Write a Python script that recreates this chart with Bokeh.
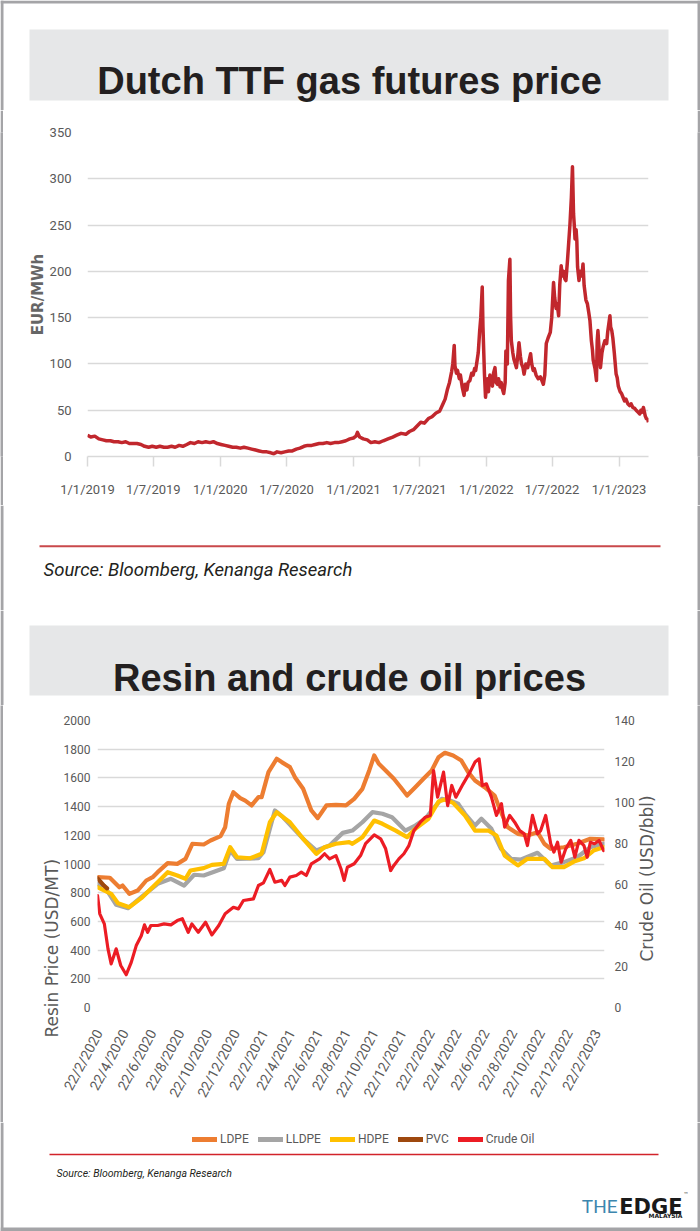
import math
import pandas as pd
from bokeh.plotting import figure
from bokeh.layouts import column, row
from bokeh.models import Range1d, LinearAxis, FixedTicker, Legend, LegendItem
from bokeh.core.properties import value
from bokeh.embed import file_html
from bokeh.resources import INLINE

# ---------------------------------------------------------------- data
# Dutch TTF gas futures price, EUR/MWh
ttf_2019 = [("2019-01-01", 23), ("2019-01-10", 21), ("2019-01-21", 22), ("2019-02-01", 19), ("2019-02-12", 18),
            ("2019-02-22", 17), ("2019-03-05", 17), ("2019-03-15", 16), ("2019-03-26", 16), ("2019-04-05", 15),
            ("2019-04-16", 16), ("2019-04-26", 14), ("2019-05-07", 14), ("2019-05-17", 14), ("2019-05-28", 13),
            ("2019-06-07", 11), ("2019-06-18", 10), ("2019-06-28", 11), ("2019-07-09", 10), ("2019-07-19", 11),
            ("2019-07-30", 10), ("2019-08-09", 10), ("2019-08-20", 11), ("2019-08-30", 10), ("2019-09-10", 12),
            ("2019-09-20", 11), ("2019-10-01", 13), ("2019-10-11", 15), ("2019-10-22", 14), ("2019-11-01", 16),
            ("2019-11-12", 15), ("2019-11-22", 16), ("2019-12-03", 15), ("2019-12-13", 16), ("2019-12-24", 14)]
ttf_2020 = [("2020-01-03", 13), ("2020-01-14", 12), ("2020-01-24", 11), ("2020-02-04", 10), ("2020-02-14", 10),
            ("2020-02-25", 9), ("2020-03-06", 10), ("2020-03-17", 9), ("2020-03-27", 8), ("2020-04-07", 7),
            ("2020-04-17", 6), ("2020-04-28", 5), ("2020-05-08", 5), ("2020-05-19", 4), ("2020-05-27", 3),
            ("2020-06-05", 5), ("2020-06-16", 4), ("2020-06-26", 5), ("2020-07-07", 6), ("2020-07-17", 6),
            ("2020-07-28", 8), ("2020-08-07", 9), ("2020-08-18", 11), ("2020-08-28", 12), ("2020-09-08", 12),
            ("2020-09-18", 13), ("2020-09-29", 14), ("2020-10-09", 14), ("2020-10-20", 15), ("2020-10-30", 14),
            ("2020-11-10", 15), ("2020-11-20", 15), ("2020-12-01", 16), ("2020-12-11", 17), ("2020-12-22", 19)]
ttf_2021 = [("2021-01-01", 20), ("2021-01-08", 22), ("2021-01-12", 26), ("2021-01-18", 21), ("2021-01-28", 19),
            ("2021-02-08", 18), ("2021-02-18", 15), ("2021-03-01", 16), ("2021-03-12", 15), ("2021-03-24", 17),
            ("2021-04-06", 19), ("2021-04-19", 21), ("2021-04-30", 23), ("2021-05-12", 25), ("2021-05-25", 24),
            ("2021-06-04", 27), ("2021-06-15", 29), ("2021-06-25", 33), ("2021-07-05", 37), ("2021-07-15", 36),
            ("2021-07-26", 41), ("2021-08-05", 43), ("2021-08-16", 47), ("2021-08-26", 49), ("2021-09-03", 56),
            ("2021-09-10", 62), ("2021-09-16", 72), ("2021-09-22", 80), ("2021-09-28", 92), ("2021-10-01", 100),
            ("2021-10-05", 120), ("2021-10-07", 98), ("2021-10-11", 90), ("2021-10-14", 93), ("2021-10-19", 84),
            ("2021-10-22", 88), ("2021-10-27", 75), ("2021-11-01", 66), ("2021-11-04", 78), ("2021-11-09", 72),
            ("2021-11-12", 80), ("2021-11-17", 82), ("2021-11-22", 90), ("2021-11-26", 88), ("2021-11-30", 95),
            ("2021-12-03", 93), ("2021-12-07", 104), ("2021-12-10", 112), ("2021-12-14", 136), ("2021-12-17", 150),
            ("2021-12-21", 183), ("2021-12-23", 140), ("2021-12-27", 90), ("2021-12-30", 64)]
ttf_2022 = [("2022-01-04", 84), ("2022-01-07", 70), ("2022-01-11", 88), ("2022-01-14", 82), ("2022-01-18", 76),
            ("2022-01-21", 90), ("2022-01-25", 96), ("2022-01-28", 80), ("2022-02-01", 78), ("2022-02-04", 84),
            ("2022-02-08", 75), ("2022-02-11", 80), ("2022-02-15", 72), ("2022-02-18", 68), ("2022-02-22", 80),
            ("2022-02-24", 114), ("2022-02-28", 100), ("2022-03-03", 190), ("2022-03-07", 213), ("2022-03-09", 150),
            ("2022-03-11", 125), ("2022-03-15", 112), ("2022-03-18", 105), ("2022-03-22", 100), ("2022-03-25", 96),
            ("2022-03-29", 110), ("2022-04-01", 123), ("2022-04-05", 108), ("2022-04-08", 100), ("2022-04-12", 96),
            ("2022-04-15", 89), ("2022-04-20", 100), ("2022-04-25", 96), ("2022-04-29", 104), ("2022-05-03", 111),
            ("2022-05-06", 100), ("2022-05-10", 93), ("2022-05-13", 95), ("2022-05-18", 88), ("2022-05-24", 84),
            ("2022-05-30", 86), ("2022-06-03", 82), ("2022-06-07", 78), ("2022-06-11", 88), ("2022-06-15", 122),
            ("2022-06-20", 128), ("2022-06-26", 134), ("2022-06-30", 150), ("2022-07-05", 188), ("2022-07-08", 172),
            ("2022-07-12", 160), ("2022-07-15", 165), ("2022-07-19", 152), ("2022-07-22", 185), ("2022-07-26", 206),
            ("2022-07-29", 195), ("2022-08-02", 200), ("2022-08-05", 192), ("2022-08-08", 190), ("2022-08-12", 210),
            ("2022-08-16", 233), ("2022-08-19", 250), ("2022-08-23", 280), ("2022-08-26", 313), ("2022-08-29", 262),
            ("2022-08-31", 250), ("2022-09-02", 235), ("2022-09-05", 245), ("2022-09-07", 233), ("2022-09-09", 205),
            ("2022-09-13", 190), ("2022-09-16", 200), ("2022-09-21", 195), ("2022-09-24", 208), ("2022-09-27", 185),
            ("2022-10-02", 169), ("2022-10-06", 165), ("2022-10-10", 155), ("2022-10-13", 147), ("2022-10-17", 125),
            ("2022-10-20", 115), ("2022-10-22", 104), ("2022-10-27", 95), ("2022-10-31", 82), ("2022-11-02", 125),
            ("2022-11-04", 136), ("2022-11-08", 110), ("2022-11-11", 96), ("2022-11-15", 112), ("2022-11-18", 118),
            ("2022-11-23", 125), ("2022-11-28", 122), ("2022-12-01", 135), ("2022-12-07", 152), ("2022-12-09", 140),
            ("2022-12-12", 136), ("2022-12-15", 128), ("2022-12-19", 112), ("2022-12-24", 89), ("2022-12-27", 85),
            ("2022-12-30", 76)]
ttf_2023 = [("2023-01-04", 70), ("2023-01-08", 68), ("2023-01-12", 64), ("2023-01-16", 60), ("2023-01-20", 62),
            ("2023-01-25", 57), ("2023-01-30", 55), ("2023-02-03", 57), ("2023-02-08", 53), ("2023-02-13", 52),
            ("2023-02-17", 50), ("2023-02-22", 48), ("2023-02-27", 46), ("2023-03-02", 50), ("2023-03-06", 48),
            ("2023-03-09", 53), ("2023-03-14", 44), ("2023-03-17", 41), ("2023-03-21", 40), ("2023-03-23", 37)]
ttf_tick_labels = ["1/1/2019", "1/7/2019", "1/1/2020", "1/7/2020", "1/1/2021",
                   "1/7/2021", "1/1/2022", "1/7/2022", "1/1/2023"]
ttf_yticks = [0, 50, 100, 150, 200, 250, 300, 350]

# Resin (USD/MT) and crude oil (USD/bbl): (days after 22/2/2020, value)
ldpe_pts = [(0, 908), (27, 904), (48, 838), (55, 850), (70, 792), (88, 815), (107, 885), (121, 908), (132, 943),
            (154, 1006), (175, 1001), (193, 1036), (208, 1141), (233, 1136), (248, 1164), (270, 1194), (280, 1256),
            (288, 1420), (298, 1500), (313, 1459), (324, 1442), (338, 1408), (353, 1466), (360, 1466), (375, 1640),
            (393, 1733), (404, 1710), (422, 1675), (433, 1605), (451, 1524), (469, 1373), (483, 1320), (502, 1408),
            (523, 1412), (545, 1408), (563, 1454), (581, 1524), (596, 1652), (607, 1756), (617, 1698), (632, 1652),
            (650, 1594), (665, 1535), (679, 1477), (697, 1535), (715, 1594), (733, 1652), (748, 1744), (762, 1775),
            (780, 1756), (798, 1721), (813, 1640), (828, 1582), (849, 1535), (871, 1477), (885, 1361), (900, 1256),
            (922, 1210), (943, 1199), (965, 1222), (980, 1141), (994, 1106), (1023, 1117), (1052, 1141), (1081, 1176),
            (1110, 1171)]
lldpe_pts = [(0, 860), (14, 850), (41, 716), (67, 692), (96, 769), (132, 862), (161, 897), (190, 850), (212, 925),
             (233, 920), (277, 971), (291, 1094), (306, 1036), (353, 1040), (364, 1082), (389, 1373), (407, 1326),
             (451, 1176), (480, 1094), (509, 1129), (538, 1217), (559, 1233), (581, 1291), (603, 1361), (625, 1350),
             (646, 1326), (675, 1233), (697, 1268), (719, 1315), (733, 1373), (755, 1454), (773, 1442), (791, 1420),
             (806, 1350), (828, 1268), (842, 1315), (864, 1245), (885, 1106), (907, 1036), (929, 1031), (965, 1078),
             (994, 990), (1023, 1013), (1052, 1047), (1081, 1117), (1110, 1141)]
hdpe_pts = [(0, 838), (30, 792), (45, 727), (70, 699), (96, 762), (132, 873), (154, 943), (175, 920), (193, 897),
            (204, 955), (233, 971), (251, 994), (277, 1001), (291, 1117), (306, 1047), (335, 1040), (360, 1071),
            (378, 1291), (393, 1361), (407, 1326), (422, 1291), (451, 1176), (480, 1071), (498, 1117), (523, 1141),
            (552, 1152), (559, 1141), (581, 1187), (607, 1303), (625, 1280), (654, 1233), (679, 1187), (697, 1245),
            (726, 1315), (748, 1436), (762, 1449), (780, 1426), (806, 1338), (828, 1233), (857, 1233), (875, 1199),
            (893, 1059), (922, 990), (943, 1036), (980, 1036), (998, 978), (1023, 978), (1045, 1017), (1067, 1040),
            (1088, 1094), (1110, 1117)]
pvc_pts = [(0, 900), (7, 875), (14, 850), (21, 830)]
crude_pts = [(0, 54.6), (5, 45.7), (15, 40.8), (23, 28.6), (30, 21.3), (41, 28.6), (51, 20.5), (63, 16.0), (74, 22.0),
             (85, 30.2), (96, 35.0), (103, 40.3), (110, 36.7), (117, 40.0), (132, 40.0), (146, 40.8), (161, 40.3),
             (175, 42.4), (186, 43.3), (199, 36.7), (207, 40.8), (221, 36.7), (237, 41.6), (251, 35.4), (266, 40.0),
             (280, 45.7), (298, 48.9), (309, 48.1), (320, 52.2), (342, 53.0), (353, 59.5), (364, 60.8), (378, 67.3),
             (389, 61.1), (404, 62.0), (411, 59.5), (422, 63.6), (436, 64.4), (447, 66.0), (458, 64.4), (469, 70.1),
             (487, 72.5), (498, 75.0), (509, 72.5), (523, 74.1), (534, 67.7), (541, 62.0), (548, 68.4), (563, 70.1),
             (577, 74.1), (588, 79.9), (607, 84.2), (621, 82.3), (632, 77.4), (643, 66.8), (650, 69.3), (661, 72.5),
             (672, 75.0), (683, 79.0), (694, 86.3), (708, 90.4), (719, 92.8), (730, 93.7), (737, 115.6), (746, 102.6),
             (759, 114.8), (768, 98.5), (777, 108.3), (786, 102.6), (802, 109.1), (817, 114.8), (828, 119.7),
             (837, 121.3), (844, 108.3), (853, 109.1), (864, 102.6), (875, 93.7), (886, 99.4), (893, 88.0),
             (904, 93.7), (915, 90.4), (926, 86.3), (936, 84.7), (943, 79.0), (954, 93.7), (965, 84.7), (972, 86.3),
             (983, 93.7), (994, 79.9), (1001, 75.8), (1009, 80.6), (1017, 70.9), (1027, 77.4), (1038, 81.5),
             (1047, 73.3), (1056, 81.5), (1067, 79.0), (1074, 73.3), (1081, 80.6), (1090, 79.9), (1100, 81.5),
             (1110, 76.6)]
resin_tick_labels = ["22/2/2020", "22/4/2020", "22/6/2020", "22/8/2020", "22/10/2020", "22/12/2020",
                     "22/2/2021", "22/4/2021", "22/6/2021", "22/8/2021", "22/10/2021", "22/12/2021",
                     "22/2/2022", "22/4/2022", "22/6/2022", "22/8/2022", "22/10/2022", "22/12/2022",
                     "22/2/2023"]
resin_yticks = [0, 200, 400, 600, 800, 1000, 1200, 1400, 1600, 1800, 2000]
crude_yticks = [0, 20, 40, 60, 80, 100, 120, 140]

# ---------------------------------------------------------------- styles
BORDER = "#a4a4a7"
GRID = "#d9d9d9"
TXT = "#595959"
SANS = "Roboto"
TITLE_BG = "#e6e7e8"


def deco(h, y0, x0=0, w=700, sides=True):
    f = figure(width=w, height=h, x_range=Range1d(x0, x0 + w), y_range=Range1d(y0 + h, y0),
               min_border=0, toolbar_location=None, output_backend="svg",
               x_axis_type=None, y_axis_type=None, outline_line_color=None)
    if sides:
        f.quad(left=[0, 697], right=[3, 700], top=[y0, y0], bottom=[y0 + h, y0 + h],
               color=BORDER, line_color=None)
    return f


def strip(h):
    return figure(width=3, height=h, min_border=0, toolbar_location=None, output_backend="svg",
                  x_axis_type=None, y_axis_type=None, outline_line_color=None,
                  background_fill_color=BORDER, border_fill_color=BORDER)


def title_box(f, y_top, y_bot, text, baseline):
    f.quad(left=[29], right=[668], top=[y_top], bottom=[y_bot], color=TITLE_BG, line_color=None)
    f.text(x=[349], y=[baseline], text=[text], text_align="center", text_baseline="alphabetic",
           text_font=value("Liberation Sans"), text_font_style="bold", text_font_size="38px",
           text_color="#231f20")


# ---------------------------------------------------------------- header 1
h1 = deco(110, 0)
h1.quad(left=[0], right=[700], top=[0], bottom=[3], color=BORDER, line_color=None)
title_box(h1, 29, 100, "Dutch TTF gas futures price", 80)

# ---------------------------------------------------------------- chart 1
t0 = pd.Timestamp("2019-01-01")
ttf_all = ttf_2019 + ttf_2020 + ttf_2021 + ttf_2022 + ttf_2023
ttf_x = [(pd.Timestamp(d) - t0).days for d, _ in ttf_all]
ttf_y = [v for _, v in ttf_all]
ttf_tick_x = [(pd.to_datetime(s, format="%d/%m/%Y") - t0).days for s in ttf_tick_labels]

p1 = figure(width=694, height=395, x_range=Range1d(0, 1542), y_range=Range1d(0, 350),
            min_border_left=84, min_border_right=49, min_border_top=22, min_border_bottom=49,
            toolbar_location=None, output_backend="svg", outline_line_color=None)
p1.line(ttf_x, ttf_y, line_color="#c1272d", line_width=3.5, line_join="round")
p1.xgrid.visible = False
p1.ygrid.grid_line_color = GRID
p1.ygrid.grid_line_width = 1.5
p1.yaxis.ticker = FixedTicker(ticks=ttf_yticks)
p1.yaxis.axis_line_color = None
p1.yaxis.major_tick_line_color = None
p1.yaxis.minor_tick_line_color = None
p1.yaxis.major_label_text_font = SANS
p1.yaxis.major_label_text_font_size = "13px"
p1.yaxis.major_label_text_color = TXT
p1.yaxis.major_label_standoff = 10
p1.yaxis.axis_label = "EUR/MWh"
p1.yaxis.axis_label_text_font = "DejaVu Sans"
p1.yaxis.axis_label_text_font_size = "15px"
p1.yaxis.axis_label_text_font_style = "bold"
p1.yaxis.axis_label_text_color = "#666666"
p1.yaxis.axis_label_standoff = 0
p1.xaxis.ticker = FixedTicker(ticks=ttf_tick_x)
p1.xaxis.major_label_overrides = {x: s for x, s in zip(ttf_tick_x, ttf_tick_labels)}
p1.xaxis.axis_line_color = GRID
p1.xaxis.axis_line_width = 1.5
p1.xaxis.major_tick_line_color = GRID
p1.xaxis.major_tick_line_width = 1.5
p1.xaxis.major_tick_out = 10
p1.xaxis.major_tick_in = 0
p1.xaxis.minor_tick_line_color = None
p1.xaxis.major_label_text_font = SANS
p1.xaxis.major_label_text_font_size = "13px"
p1.xaxis.major_label_text_color = TXT
p1.xaxis.major_label_standoff = 15

# ---------------------------------------------------------------- footer 1
f1 = deco(105, 505)
f1.segment(x0=[39], y0=[545.7], x1=[660], y1=[545.7], line_color="#c9484b", line_width=2)
f1.text(x=[43], y=[569], text=["Source: Bloomberg, Kenanga Research"], text_align="left",
        text_baseline="middle", text_font=value(SANS), text_font_style="italic",
        text_font_size="18.5px", text_color="#231f20")

# ---------------------------------------------------------------- header 2
h2 = deco(95, 610)
title_box(h2, 625, 695, "Resin and crude oil prices", 677)

# ---------------------------------------------------------------- chart 2
s0 = pd.Timestamp("2020-02-22")
resin_tick_x = [(pd.to_datetime(s, format="%d/%m/%Y") - s0).days for s in resin_tick_labels]

P2_H = 417
P2_X0, P2_X1 = 60, 637          # page x of the chart-2 figure
p2 = figure(width=P2_X1 - P2_X0, height=P2_H, x_range=Range1d(0, 1112), y_range=Range1d(0, 2000),
            min_border_left=96 - P2_X0, min_border_right=P2_X1 - 606, min_border_top=15,
            min_border_bottom=P2_H - 15 - 287,
            toolbar_location=None, output_backend="svg", outline_line_color=None)
p2.extra_y_ranges = {"crude": Range1d(0, 140)}

series = [("LDPE", ldpe_pts, "#ed7d31", 4.2, "default"),
          ("LLDPE", lldpe_pts, "#a5a5a5", 4.2, "default"),
          ("HDPE", hdpe_pts, "#ffc000", 4.2, "default"),
          ("PVC", pvc_pts, "#9e480e", 4.2, "default"),
          ("Crude Oil", crude_pts, "#ec1c24", 3.2, "crude")]
for name, pts, col, lw, rng in series:
    p2.line([d for d, _ in pts], [v for _, v in pts], line_color=col, line_width=lw,
            line_join="round", line_cap="round", y_range_name=rng)

p2.xgrid.visible = False
p2.ygrid.grid_line_color = GRID
p2.ygrid.grid_line_width = 1.5
p2.yaxis[0].ticker = FixedTicker(ticks=resin_yticks)
cax = LinearAxis(y_range_name="crude", ticker=FixedTicker(ticks=crude_yticks))
p2.add_layout(cax, "right")
for ax in p2.yaxis:
    ax.axis_line_color = None
    ax.major_tick_line_color = None
    ax.minor_tick_line_color = None
    ax.major_tick_out = 0
    ax.major_tick_in = 0
    ax.minor_tick_out = 0
    ax.minor_tick_in = 0
    ax.major_label_text_font = SANS
    ax.major_label_text_font_size = "12px"
    ax.major_label_text_color = TXT
    ax.major_label_standoff = 7
cax.major_label_standoff = 10

p2.xaxis.ticker = FixedTicker(ticks=resin_tick_x)
p2.xaxis.major_label_overrides = {x: s for x, s in zip(resin_tick_x, resin_tick_labels)}
p2.xaxis.axis_line_color = None
p2.xaxis.major_tick_line_color = None
p2.xaxis.minor_tick_line_color = None
p2.xaxis.major_tick_out = 0
p2.xaxis.major_tick_in = 0
p2.xaxis.minor_tick_out = 0
p2.xaxis.major_label_orientation = 1.08
p2.xaxis.major_label_text_font = SANS
p2.xaxis.major_label_text_font_size = "14px"
p2.xaxis.major_label_text_color = TXT
p2.xaxis.major_label_standoff = 23

# axis titles of chart 2, in narrow side panels (text starts at its lower end and reads upward)
lt = deco(P2_H, 705, x0=3, w=P2_X0 - 3, sides=False)
lt.text(x=[51], y=[1037], text=["Resin Price (USD/MT)"], angle=math.pi / 2, text_align="left",
        text_baseline="middle", text_font=value("DejaVu Sans"), text_font_size="17px", text_color=TXT)
rt = deco(P2_H, 705, x0=P2_X1, w=697 - P2_X1, sides=False)
rt.text(x=[646], y=[961], text=["Crude Oil (USD/bbl)"], angle=math.pi / 2, text_align="left",
        text_baseline="middle", text_font=value("DejaVu Sans"), text_font_size="17px", text_color=TXT)

# ---------------------------------------------------------------- footer 2 (legend, source, logo)
F2_Y0 = 705 + P2_H
f2 = deco(1231 - F2_Y0, F2_Y0)
f2.quad(left=[0], right=[700], top=[1227], bottom=[1231], color=BORDER, line_color=None)
items = []
for name, pts, col, lw, rng in series:
    swatch = f2.line(x=[-60, -50], y=[F2_Y0 + 5, F2_Y0 + 5], line_color=col, line_width=5,
                     line_cap="round")
    items.append(LegendItem(label=name, renderers=[swatch]))
legend = Legend(items=items, orientation="horizontal", location=(192, 1231 - 1146),
                label_text_font=SANS, label_text_font_size="12px", label_text_color=TXT,
                glyph_width=25, glyph_height=14, label_standoff=3, spacing=9, padding=0, margin=0,
                border_line_color=None, background_fill_alpha=0)
f2.add_layout(legend, "center")
f2.segment(x0=[49], y0=[1154], x1=[658], y1=[1154], line_color="#d2232a", line_width=1.5)
f2.text(x=[56], y=[1173], text=["Source: Bloomberg, Kenanga Research"], text_align="left",
        text_baseline="middle", text_font=value(SANS), text_font_style="italic",
        text_font_size="10.5px", text_color="#231f20")
f2.text(x=[617], y=[1206], text=["THE"], text_align="right", text_baseline="alphabetic",
        text_font=value(SANS), text_font_size="19px", text_color="#3d86ae")
f2.text(x=[682], y=[1206], text=["EDGE"], text_align="right", text_baseline="alphabetic",
        text_font=value("DejaVu Sans"), text_font_style="bold", text_font_size="21px",
        text_color="#1a1a1a")
f2.text(x=[683], y=[1193], text=["™"], text_align="left", text_baseline="middle",
        text_font=value("DejaVu Sans"), text_font_size="5px", text_color="#1a1a1a")
f2.text(x=[682], y=[1215], text=["MALAYSIA"], text_align="right", text_baseline="middle",
        text_font=value("DejaVu Sans"), text_font_style="bold", text_font_size="6px",
        text_color="#1a1a1a")

layout = column(h1, row(strip(395), p1, strip(395)), f1, h2,
                row(strip(P2_H), column(lt), column(p2), column(rt), strip(P2_H)), f2)
open("out.html", "w").write(file_html(layout, INLINE))
